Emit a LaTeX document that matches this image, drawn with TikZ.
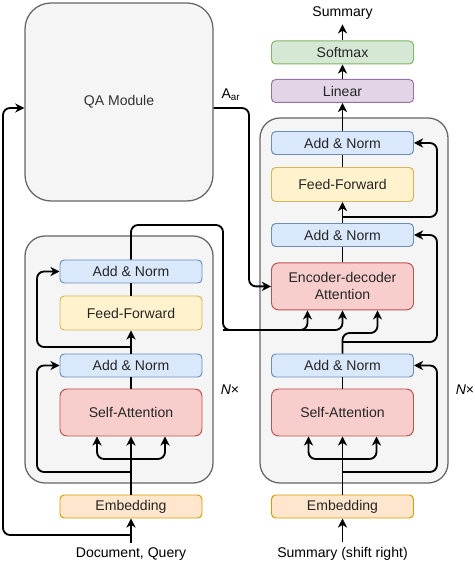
\documentclass[tikz,border=0pt]{standalone}
\usepackage{fontspec}
\setmainfont{Liberation Sans}
\usetikzlibrary{arrows.meta}

\definecolor{normfill}{HTML}{DAE8FC}
\definecolor{normdraw}{HTML}{6C8EBF}
\definecolor{fffill}{HTML}{FFF2CC}
\definecolor{ffdraw}{HTML}{D6B656}
\definecolor{attfill}{HTML}{F8CECC}
\definecolor{attdraw}{HTML}{B85450}
\definecolor{linfill}{HTML}{E1D5E7}
\definecolor{lindraw}{HTML}{9673A6}
\definecolor{softfill}{HTML}{D5E8D4}
\definecolor{softdraw}{HTML}{82B366}
\definecolor{embfill}{HTML}{FFE6CC}
\definecolor{embdraw}{HTML}{D79B00}
\definecolor{boxfill}{HTML}{F5F5F5}
\definecolor{boxdraw}{HTML}{666666}
\definecolor{boxtext}{HTML}{333333}

\tikzset{
	block/.style={draw, line width=0.7pt, rounded corners=3pt, minimum width=3.55cm, minimum height=0.575cm, inner sep=0pt, align=center, text=black!85},
	addnorm/.style={block, fill=normfill, draw=normdraw},
	feedfwd/.style={block, fill=fffill, draw=ffdraw, minimum height=0.85cm},
	attn/.style={block, fill=attfill, draw=attdraw, minimum height=1.175cm, rounded corners=5pt},
	linear/.style={block, fill=linfill, draw=lindraw},
	softmax/.style={block, fill=softfill, draw=softdraw},
	embed/.style={block, fill=embfill, draw=embdraw},
	container/.style={draw=boxdraw, fill=boxfill, line width=0.9pt, rounded corners=0.5cm, minimum width=4.7cm, text=boxtext},
	link/.style={line width=1.3pt, rounded corners=5pt},
	arrow/.style={link, -{Stealth[length=6.5pt,width=6.5pt,inset=2pt]}}
}

\begin{document}
\begin{tikzpicture}

	\def\ex{3.275}
	\def\dx{8.5625}
	\useasboundingbox (0,0) rectangle (11.85,14.15);

	% containers
	\node[container, minimum height=4.95cm, rounded corners=0.65cm] (qa) at (2.975,11.6) {QA Module};
	\node[container, minimum height=6.175cm] (enc) at (2.975,5.1625) {};
	\node[container, minimum height=9.125cm] (dec) at (8.85,6.6375) {};

	% encoder
	\node[embed] (emb1) at (\ex,1.4875) {Embedding};
	\node[attn] (sa1) at (\ex,3.8375) {Self-Attention};
	\node[addnorm] (an1) at (\ex,5.0125) {Add \& Norm};
	\node[feedfwd] (ff1) at (\ex,6.325) {Feed-Forward};
	\node[addnorm] (an2) at (\ex,7.3625) {Add \& Norm};
	\node (docq) at (\ex,0.3) {Document, Query};
	\node (nenc) at (5.75,4.4) {\textit{N}×};

	% decoder
	\node[embed] (emb2) at (\dx,1.4875) {Embedding};
	\node[attn] (sa2) at (\dx,3.8375) {Self-Attention};
	\node[addnorm] (an3) at (\dx,5.0125) {Add \& Norm};
	\node[attn] (eda) at (\dx,6.99) {Encoder-decoder\\Attention};
	\node[addnorm] (an4) at (\dx,8.275) {Add \& Norm};
	\node[feedfwd] (ff2) at (\dx,9.5375) {Feed-Forward};
	\node[addnorm] (an5) at (\dx,10.575) {Add \& Norm};
	\node[linear] (lin) at (\dx,11.875) {Linear};
	\node[softmax] (soft) at (\dx,12.8375) {Softmax};
	\node (sumout) at (\dx,13.825) {Summary};
	\node (sumin) at (\dx,0.3) {Summary (shift right)};
	\node (ndec) at (11.625,4.4) {\textit{N}×};
	\node (aar) at (5.775,11.775) {A\textsubscript{ar}};

	% encoder links
	\coordinate (e0) at (\ex,0.775);
	\coordinate (e1) at (\ex,2.675);
	\coordinate (e2) at (\ex,2.35);
	\coordinate (e3) at (\ex,5.475);
	\coordinate (e4) at (5.575,5.9);
	\draw[arrow] (docq) -- (emb1);
	\draw[arrow] (e0) -- (0.075,0.775) |- ([yshift=-0.15cm]qa.west);
	\draw[arrow] (emb1) -- (sa1);
	\draw[arrow] (e1) -| ([xshift=-0.85cm]sa1.south);
	\draw[arrow] (e1) -| ([xshift=0.85cm]sa1.south);
	\draw[arrow] (e2) -- (0.925,2.35) |- (an1.west);
	\draw[link] (sa1) -- (an1);
	\draw[arrow] (an1) -- (ff1);
	\draw[arrow] (e3) -- (0.925,5.475) |- (an2.west);
	\draw[link] (ff1) -- (an2);
	\draw[arrow] (an2.north) |- (5.575,8.525) -- (e4) -| (eda.south);
	\draw[arrow] (e4) -| ([xshift=-0.875cm]eda.south);
	\draw[arrow] ([yshift=-0.15cm]qa.east) -- (6.225,11.45) |- (eda.west);

	% decoder links
	\coordinate (d1) at (\dx,2.675);
	\coordinate (d2) at (\dx,2.35);
	\coordinate (d3) at (\dx,5.6);
	\coordinate (d4) at (\dx,8.725);
	\draw[arrow] (sumin) -- (emb2);
	\draw[arrow] (emb2) -- (sa2);
	\draw[arrow] (d1) -| ([xshift=-0.85cm]sa2.south);
	\draw[arrow] (d1) -| ([xshift=0.85cm]sa2.south);
	\draw[arrow] (d2) -- (10.925,2.35) |- (an3.east);
	\draw[link] (sa2) -- (an3);
	\draw[arrow] (an3.north) -- (\dx,5.825) -| ([xshift=0.875cm]eda.south);
	\draw[arrow] (d3) -- (10.925,5.6) |- (an4.east);
	\draw[link] (eda) -- (an4);
	\draw[arrow] (an4) -- (ff2);
	\draw[arrow] (d4) -- (10.925,8.725) |- (an5.east);
	\draw[link] (ff2) -- (an5);
	\draw[arrow] (an5) -- (lin);
	\draw[arrow] (lin) -- (soft);
	\draw[arrow] (soft) -- (sumout);

\end{tikzpicture}
\end{document}
